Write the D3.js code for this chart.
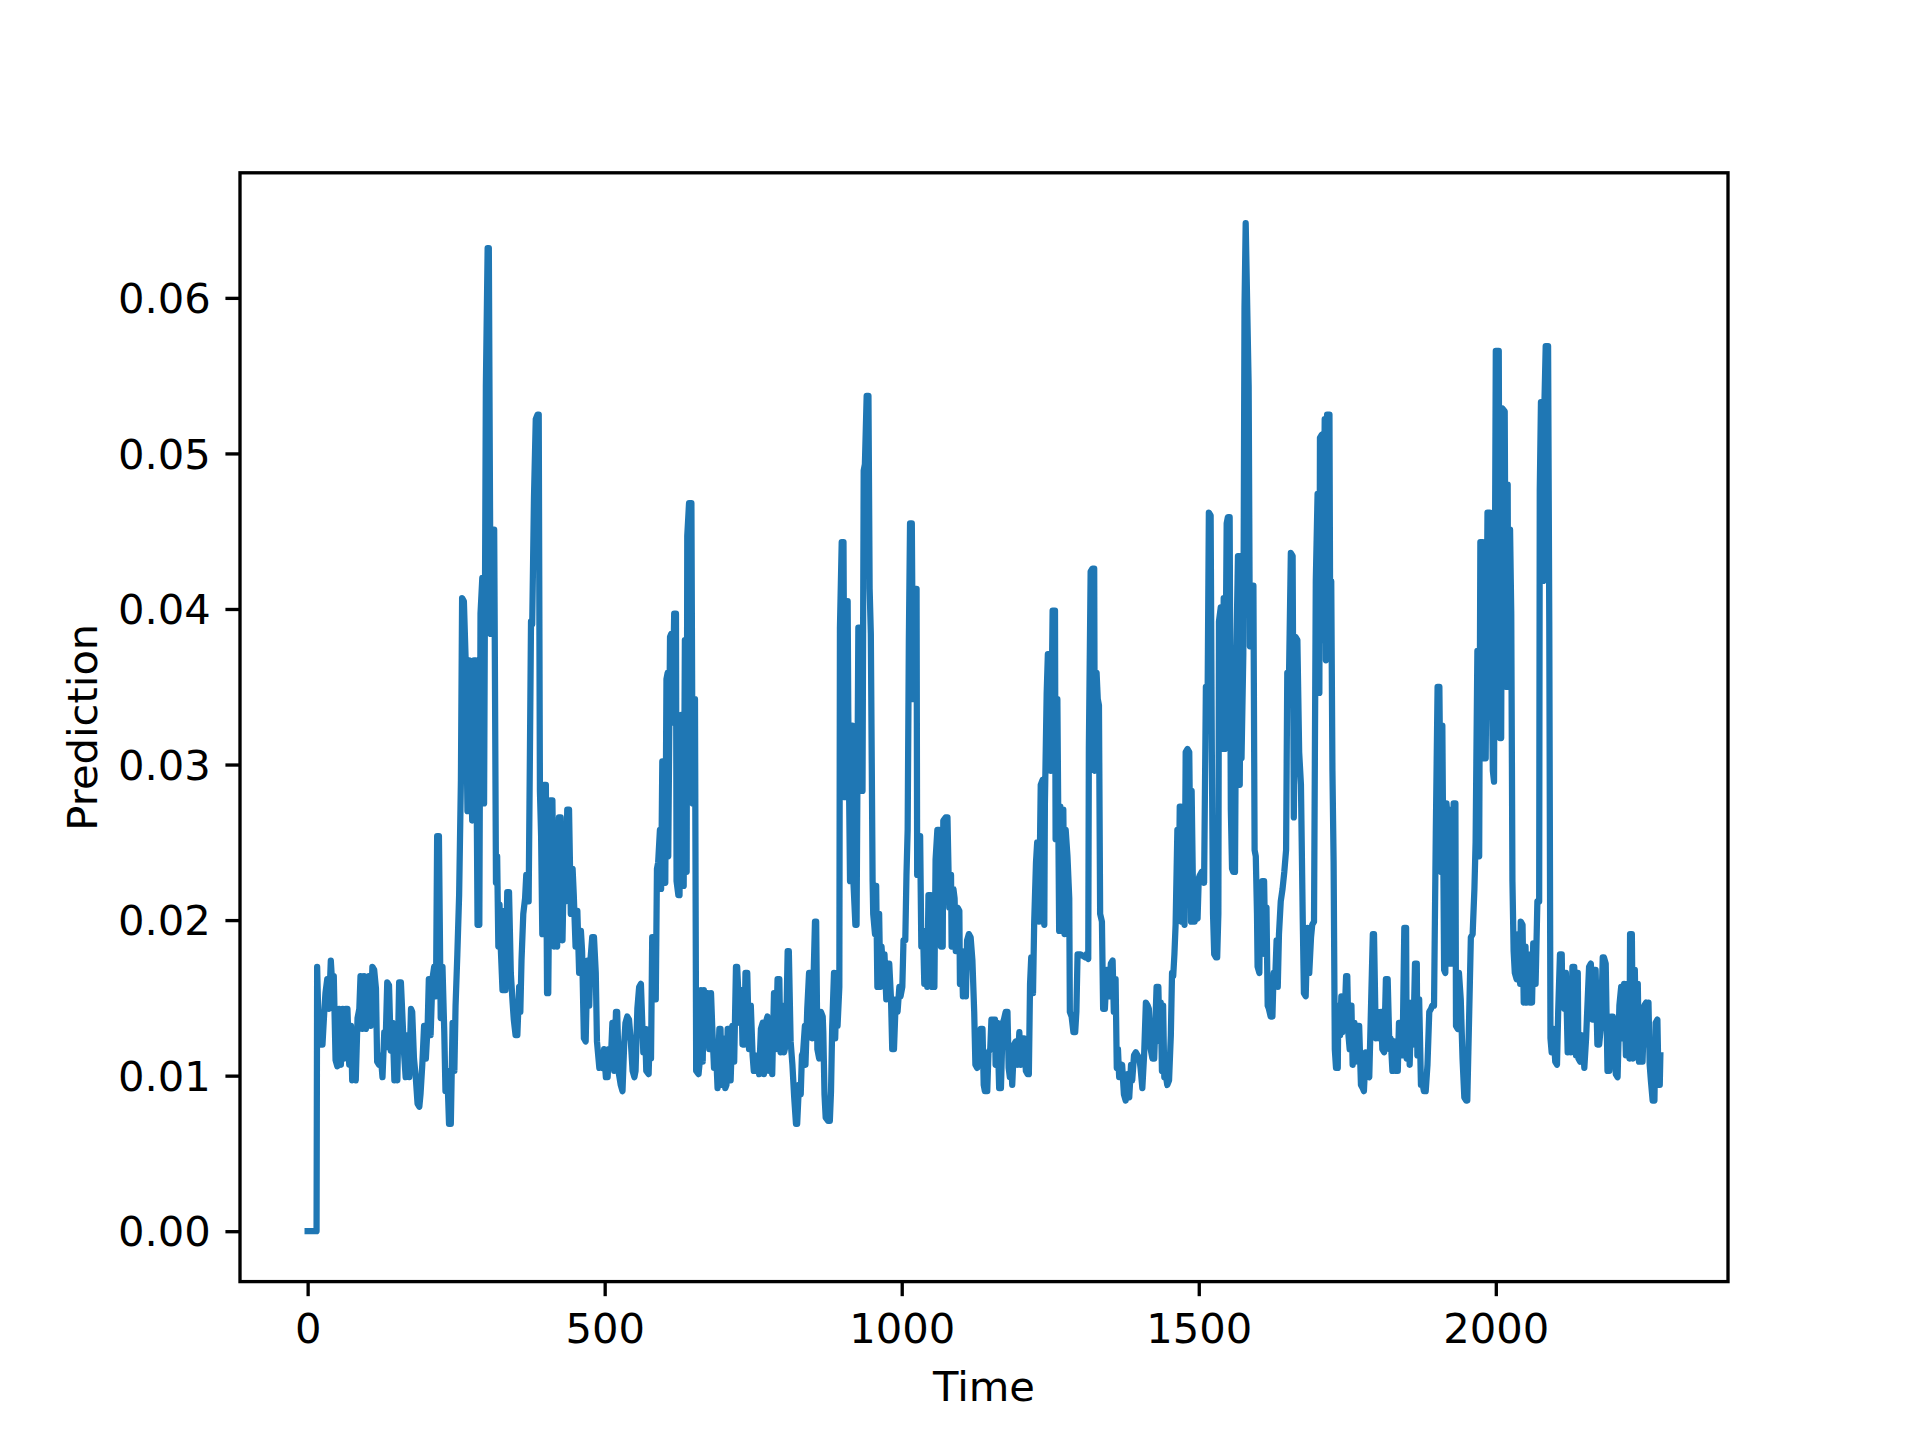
<!DOCTYPE html>
<html>
<head>
<meta charset="utf-8">
<script src="https://cdn.jsdelivr.net/npm/d3@7"></script>
<style>
  html, body { margin: 0; padding: 0; background: #ffffff; }
  svg { display: block; }
</style>
</head>
<body>
<svg id="chart" width="1920" height="1440"></svg>
<script>
// ---- data ----
const time = [
  0,15,16,19,25,28,30,33,36,39,42,44,47,50,53,56,59,61,64,67,70,73,75,78,81,84,87,89,92,95,98,101,103,106,109,112,115,117,120,123,126,129,131,134,137,140,143,146,148,151,154,157,160,162,165,168,171,174,176,179,182,185,188,190,193,196,199,202,204,207,210,213,216,218,221,224,227,230,232,235,238,241,244,247,249,252,255,258,260,263,266,269,272,
  277,280,283,286,289,291,294,297,300,303,305,308,311,314,315,317,319,321,323,325,328,331,333,336,339,342,345,347,350,353,356,358,360,363,366,368,372,374,376,378,381,384,387,389,391,393,395,398,401,403,405,408,412,415,418,420,423,426,429,432,434,437,440,443,446,448,451,454,457,460,462,465,468,471,474,476,479,482,485,487,491,493,496,499,502,505,507,510,513,516,519,521,524,527,530,533,535,538,541,544,547,550,552,555,558,561,
  565,568,570,574,576,578,580,583,586,588,590,593,595,597,600,602,604,606,607,610,612,614,617,620,621,624,626,629,631,633,635,638,639,642,646,648,651,652,654,658,660,662,665,667,670,673,676,679,681,684,687,690,693,695,697,700,703,705,707,709,712,715,718,721,723,725,727,730,732,735,737,740,743,746,749,751,754,757,760,763,766,768,771,774,777,780,782,785,788,791,794,796,799,802,805,808,810,813,816,819,822,824,827,830,832,834,837,838,841,844,847,849,
  854,856,858,861,864,867,868,870,872,876,879,881,883,886,888,891,892,895,896,899,902,904,906,909,910,913,914,917,919,922,924,927,929,932,934,936,938,941,944,946,948,951,952,955,957,959,962,964,966,969,971,974,977,979,982,984,987,990,993,996,998,1001,1003,1006,1008,1010,1012,1014,1017,1019,1021,1025,1026,1029,1031,1033,1036,1038,1041,1043,1045,1049,1051,1053,1055,1057,1060,1063,1066,1069,1070,1074,1077,1080,1083,1084,1087,1089,1091,1094,1097,1098,1101,1103,1106,1108,1110,1113,1116,1119,1122,1124,1127,
  1133,1136,1138,1140,1144,1146,1149,1151,1154,1157,1158,1161,1164,1167,1170,1172,1175,1178,1180,1182,1184,1186,1189,1192,1195,1198,1200,1203,1206,1209,1212,1214,1216,1218,1221,1223,1226,1228,1231,1234,1237,1240,1241,1244,1246,1249,1251,1254,1258,1259,1262,1265,1267,1269,1272,1274,1276,1279,1282,1283,1286,1289,1292,1294,1296,1301,1309,1311,1314,1315,1318,1321,1324,1325,1328,1330,1332,1334,1337,1339,1342,1345,1347,1349,1352,1355,1357,1360,1362,1364,1366,1369,1371,1374,1377,1380,1383,1386,1388,1391,1394,1397,1400,1402,1405,1408,1411,1414,1416,1419,
  1422,1425,1427,1429,1432,1434,1436,1438,1440,1442,1445,1447,1450,1453,1455,1457,1459,1461,1464,1466,1468,1470,1471,1474,1476,1478,1481,1484,1487,1488,1491,1493,1495,1498,1500,1502,1505,1509,1512,1515,1517,1520,1522,1524,1526,1529,1531,1533,1534,1537,1540,1542,1544,1547,1549,1552,1554,1556,1558,1561,1563,1566,1568,1569,1571,1572,1575,1577,1579,1584,1586,1589,1592,1594,1596,1598,1599,1602,1603,1605,1607,1610,1612,1614,1616,1618,1621,1624,1626,1629,1631,1633,1635,1638,1641,1644,1647,1649,1652,1655,1658,1660,1663,1666,1669,1672,1675,1677,1680,1683,1686,1689,1691,1694,1697,1700,
  1703,1704,1707,1709,1712,1714,1716,1720,1721,1723,1725,1727,1729,1731,1734,1735,1738,1740,1742,1745,1748,1750,1752,1754,1757,1759,1762,1764,1767,1770,1773,1776,1778,1781,1784,1787,1790,1793,1795,1798,1801,1804,1807,1809,1812,1815,1818,1821,1823,1826,1829,1832,1835,1837,1840,1843,1846,1849,1850,1853,1855,1858,1861,1864,1867,1868,1871,1874,1877,1879,1882,1885,1888,1891,1893,1896,1899,1902,1905,1908,1910,1913,1915,1917,1919,1922,1924,1927,1929,1932,1933,1936,1938,1941,1944,1947,1950,1952,1955,1958,1961,1964,1966,1969,1972,1974,1978,1979,1982,1983,1986,1990,
  1995,1997,2000,2005,2007,2009,2011,2015,2017,2020,2021,2024,2026,2028,2030,2032,2035,2038,2041,2042,2045,2047,2050,2052,2055,2057,2061,2063,2066,2067,2070,2073,2074,2076,2079,2080,2082,2084,2088,2090,2092,2094,2097,2100,2103,2105,2108,2111,2112,2115,2118,2121,2124,2126,2129,2132,2135,2138,2139,2142,2144,2146,2149,2152,2154,2157,2160,2163,2166,2168,2171,2174,2177,2180,2182,2185,2188,2191,2194,2197,2199,2202,2205,2208,2211,2213,2216,2219,2222,2225,2226,2229,2231,2234,2236,2239,2241,2244,2247,2250,2253,2255,2257,2259,2261,2264,2267,2269,2272,2274,2276,2277
];

const prediction = [
  0,0,.0170,.0120,.0120,.0141,.0153,.0162,.0143,.0174,.0155,.0164,.0110,.0106,.0143,.0107,.0143,.0111,.0143,.0143,.0107,.0132,.0097,.0105,.0097,.0137,.0143,.0164,.0130,.0164,.0130,.0143,.0164,.0132,.0170,.0168,.0156,.0109,.0107,.0113,.0099,.0128,.0118,.0160,.0158,.0116,.0134,.0097,.0126,.0097,.0160,.0160,.0134,.0116,.0099,.0126,.0099,.0143,.0141,.0111,.0099,.0082,.0080,.0088,.0107,.0132,.0111,.0132,.0162,.0126,.0162,.0170,.0151,.0254,.0254,.0137,.0170,.0128,.0090,.0103,.0069,.0069,.0134,.0103,.0145,.0178,.0216,.0290,.0407,.0405,.0367,.0270,.0367,
  .0264,.0367,.0367,.0197,.0197,.0397,.0420,.0275,.0543,.0632,.0632,.0384,.0451,.0451,.0380,.0224,.0241,.0183,.0210,.0183,.0155,.0206,.0155,.0218,.0218,.0166,.0147,.0136,.0126,.0126,.0157,.0141,.0174,.0204,.0214,.0229,.0212,.0300,.0392,.0390,.0472,.0522,.0525,.0525,.0283,.0254,.0191,.0287,.0287,.0153,.0153,.0277,.0277,.0183,.0262,.0183,.0266,.0266,.0187,.0250,.0212,.0271,.0271,.0204,.0233,.0216,.0183,.0206,.0166,.0193,.0180,.0124,.0122,.0174,.0145,.0174,.0189,.0189,.0166,.0122,.0105,.0107,.0105,.0117,.0099,.0099,.0117,.0107,.0134,.0103,.0141,.0141,.0101,.0094,.0090,.0122,.0134,.0138,.0136,.0122,.0103,.0099,.0103,.0143,.0157,.0159,
  .0115,.0130,.0103,.0101,.0130,.0111,.0189,.0189,.0149,.0233,.0237,.0258,.0220,.0302,.0302,.0224,.0355,.0359,.0241,.0382,.0384,.0327,.0397,.0397,.0225,.0216,.0216,.0332,.0332,.0222,.0380,.0231,.0447,.0468,.0468,.0275,.0342,.0342,.0103,.0101,.0109,.0155,.0109,.0155,.0134,.0153,.0117,.0153,.0132,.0105,.0120,.0092,.0130,.0130,.0094,.0124,.0092,.0094,.0130,.0130,.0097,.0132,.0109,.0170,.0170,.0153,.0134,.0155,.0120,.0120,.0166,.0166,.0117,.0145,.0113,.0103,.0103,.0113,.0101,.0130,.0134,.0101,.0134,.0138,.0103,.0136,.0101,.0153,.0117,.0162,.0162,.0115,.0145,.0115,.0120,.0180,.0180,.0122,.0107,.0086,.0069,.0069,.0094,.0088,.0113,.0115,.0132,.0107,.0143,.0166,.0166,.0124,
  .0199,.0199,.0117,.0111,.0141,.0138,.0128,.0088,.0073,.0071,.0071,.0090,.0132,.0166,.0124,.0166,.0132,.0157,.0388,.0443,.0443,.0279,.0279,.0405,.0334,.0225,.0325,.0325,.0222,.0197,.0197,.0388,.0388,.0283,.0283,.0489,.0493,.0537,.0537,.0413,.0384,.0225,.0204,.0191,.0222,.0157,.0204,.0157,.0183,.0166,.0178,.0149,.0172,.0172,.0149,.0117,.0117,.0149,.0141,.0157,.0151,.0157,.0187,.0187,.0229,.0258,.0380,.0455,.0455,.0342,.0413,.0413,.0229,.0229,.0254,.0183,.0191,.0159,.0193,.0157,.0216,.0216,.0157,.0204,.0157,.0239,.0258,.0258,.0183,.0183,.0264,.0266,.0266,.0208,.0229,.0183,.0220,.0214,.0180,.0208,.0206,.0159,.0180,.0151,.0176,.0151,.0187,.0191,.0189,.0174,.0141,.0107,.0105,
  .0130,.0130,.0094,.0090,.0090,.0115,.0117,.0136,.0136,.0136,.0107,.0134,.0092,.0092,.0134,.0136,.0141,.0141,.0105,.0099,.0111,.0094,.0120,.0122,.0107,.0128,.0107,.0124,.0124,.0103,.0101,.0101,.0159,.0176,.0153,.0199,.0237,.0250,.0199,.0287,.0290,.0197,.0275,.0346,.0371,.0371,.0296,.0399,.0399,.0252,.0342,.0193,.0273,.0193,.0271,.0191,.0258,.0241,.0214,.0141,.0138,.0128,.0128,.0141,.0178,.0178,.0176,.0178,.0175,.0311,.0424,.0426,.0426,.0296,.0359,.0342,.0338,.0204,.0199,.0143,.0143,.0168,.0168,.0151,.0172,.0174,.0141,.0162,.0105,.0117,.0099,.0103,.0107,.0088,.0084,.0101,.0086,.0107,.0097,.0113,.0115,.0113,.0111,.0105,.0092,.0113,.0147,.0145,.0143,.0117,
  .0111,.0111,.0134,.0157,.0157,.0122,.0147,.0103,.0145,.0099,.0099,.0094,.0097,.0126,.0166,.0164,.0178,.0197,.0258,.0204,.0273,.0273,.0199,.0254,.0197,.0308,.0310,.0308,.0199,.0283,.0199,.0199,.0212,.0201,.0227,.0229,.0231,.0224,.0350,.0350,.0462,.0460,.0308,.0204,.0178,.0176,.0176,.0204,.0392,.0401,.0310,.0407,.0310,.0455,.0459,.0459,.0271,.0233,.0231,.0231,.0367,.0434,.0434,.0287,.0418,.0304,.0371,.0594,.0648,.0543,.0376,.0415,.0415,.0245,.0241,.0204,.0170,.0166,.0208,.0178,.0225,.0225,.0178,.0208,.0145,.0143,.0138,.0138,.0166,.0166,.0187,.0157,.0191,.0212,.0220,.0231,.0245,.0359,.0359,.0436,.0434,.0266,.0382,.0380,.0308,.0287,.0201,.0153,.0151,.0195,.0166,.0189,.0197,.0199,.0418,.0474,
  .0346,.0510,.0512,.0380,.0522,.0367,.0525,.0525,.0415,.0418,.0296,.0237,.0117,.0105,.0105,.0145,.0126,.0151,.0128,.0132,.0164,.0164,.0126,.0117,.0145,.0107,.0134,.0109,.0132,.0132,.0094,.0092,.0090,.0115,.0101,.0099,.0145,.0191,.0191,.0124,.0141,.0124,.0141,.0117,.0115,.0162,.0162,.0117,.0124,.0103,.0122,.0103,.0103,.0134,.0134,.0113,.0195,.0195,.0111,.0147,.0107,.0147,.0120,.0172,.0172,.0113,.0149,.0094,.0094,.0090,.0090,.0107,.0141,.0143,.0145,.0145,.0256,.0350,.0350,.0231,.0325,.0168,.0166,.0275,.0266,.0172,.0271,.0172,.0275,.0275,.0132,.0130,.0166,.0149,.0111,.0086,.0084,.0084,.0136,.0189,.0191,.0220,.0250,.0373,.0241,.0443,.0443,.0304,.0426,.0304,.0462,.0462,
  .0296,.0289,.0566,.0566,.0317,.0317,.0529,.0527,.0350,.0480,.0350,.0451,.0397,.0225,.0180,.0166,.0162,.0191,.0159,.0199,.0197,.0147,.0183,.0147,.0178,.0147,.0147,.0185,.0185,.0159,.0212,.0212,.0476,.0533,.0533,.0418,.0535,.0569,.0569,.0392,.0124,.0115,.0130,.0109,.0107,.0141,.0178,.0178,.0145,.0143,.0166,.0115,.0155,.0115,.0170,.0170,.0113,.0166,.0111,.0109,.0126,.0124,.0105,.0124,.0143,.0170,.0172,.0136,.0168,.0168,.0120,.0120,.0132,.0176,.0176,.0172,.0103,.0103,.0138,.0138,.0128,.0101,.0099,.0145,.0157,.0124,.0159,.0113,.0159,.0111,.0191,.0191,.0111,.0168,.0124,.0159,.0109,.0124,.0109,.0145,.0147,.0120,.0147,.0107,.0097,.0084,.0084,.0134,.0136,.0094,.0094,.0113
];

const xTicks = [0, 500, 1000, 1500, 2000];
const yTicks = [0, 0.01, 0.02, 0.03, 0.04, 0.05, 0.06];
const xLabel = "Time";
const yLabel = "Prediction";

// ---- layout ----
const W = 1920, H = 1440;
const plot = { left: 240, right: 1728, top: 172.8, bottom: 1281.6 };
const FONT = "'DejaVu Sans', sans-serif";
const FS = 41.67;
const TICK = 14.58;
const SPINE = 3.33;

const data = time.map((t, i) => ({ t, v: prediction[i] }));

const [t0, t1] = d3.extent(time);
const tPad = (t1 - t0) * 0.05;
const x = d3.scaleLinear().domain([t0 - tPad, t1 + tPad]).range([plot.left, plot.right]);

const [v0, v1] = d3.extent(prediction);
const vPad = (v1 - v0) * 0.05;
const y = d3.scaleLinear().domain([v0 - vPad, v1 + vPad]).range([plot.bottom, plot.top]);

const svg = d3.select("#chart");
svg.append("rect").attr("x", 0).attr("y", 0).attr("width", W).attr("height", H).attr("fill", "#ffffff");

// line
const line = d3.line().x(d => x(d.t)).y(d => y(d.v));
svg.append("path")
  .datum(data)
  .attr("d", line)
  .attr("fill", "none")
  .attr("stroke", "#1f77b4")
  .attr("stroke-width", 6.25)
  .attr("stroke-linejoin", "round")
  .attr("stroke-linecap", "square");

// axes
const xAxis = d3.axisBottom(x).tickValues(xTicks).tickFormat(d3.format("d"))
  .tickSizeInner(TICK).tickSizeOuter(0).tickPadding(17.5);
const gx = svg.append("g").attr("transform", `translate(0,${plot.bottom})`).call(xAxis);
gx.select(".domain").remove();
gx.selectAll(".tick line").attr("stroke", "#000").attr("stroke-width", SPINE);
gx.selectAll(".tick text").attr("fill", "#000").attr("font-family", FONT).attr("font-size", FS);

const yAxis = d3.axisLeft(y).tickValues(yTicks).tickFormat(d3.format(".2f"))
  .tickSizeInner(TICK).tickSizeOuter(0).tickPadding(TICK);
const gy = svg.append("g").attr("transform", `translate(${plot.left},0)`).call(yAxis);
gy.select(".domain").remove();
gy.selectAll(".tick line").attr("stroke", "#000").attr("stroke-width", SPINE);
gy.selectAll(".tick text").attr("fill", "#000").attr("font-family", FONT).attr("font-size", FS).attr("dy", "0.35em");

// frame (spines)
svg.append("rect")
  .attr("x", plot.left).attr("y", plot.top)
  .attr("width", plot.right - plot.left).attr("height", plot.bottom - plot.top)
  .attr("fill", "none").attr("stroke", "#000").attr("stroke-width", SPINE)
  .attr("stroke-linejoin", "miter");

// axis labels
svg.append("text")
  .attr("x", (plot.left + plot.right) / 2).attr("y", 1401)
  .attr("text-anchor", "middle").attr("font-family", FONT).attr("font-size", FS).attr("fill", "#000")
  .text(xLabel);

svg.append("text")
  .attr("transform", `translate(96.5,${(plot.top + plot.bottom) / 2}) rotate(-90)`)
  .attr("text-anchor", "middle").attr("font-family", FONT).attr("font-size", FS).attr("fill", "#000")
  .text(yLabel);
</script>
</body>
</html>
